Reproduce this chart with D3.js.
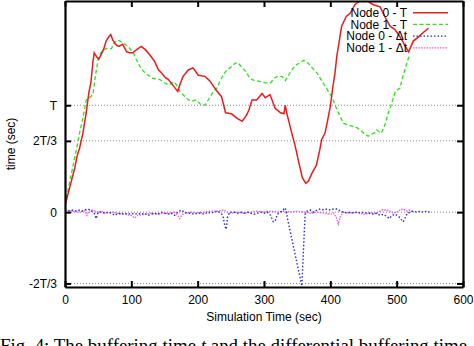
<!DOCTYPE html>
<html><head><meta charset="utf-8">
<script src="https://cdn.jsdelivr.net/npm/d3@7"></script>
<style>html,body{margin:0;padding:0;background:#fff;overflow:hidden}</style>
</head><body>
<svg id="c" width="474" height="346"></svg>
<script>
// ---- data (time in sec, value in units of T) ----
const xTicks = [0, 100, 200, 300, 400, 500, 600];
const yTickVals = [-2/3, 0, 2/3, 1];
const yTickLabels = ["-2T/3", "0", "2T/3", "T"];
const seriesNames = ["Node 0 - T", "Node 1 - T", "Node 0 - \u0394t", "Node 1 - \u0394t"];

const node0T = [[0,0.06],[5,0.18],[10,0.3],[15,0.42],[18,0.52],[22,0.6],[27,0.74],[32,0.93],[36,1.12],[39,1.21],[42,1.4],[44,1.49],[48,1.45],[51,1.43],[55,1.48],[58,1.52],[62,1.6],[66,1.64],[69,1.66],[72,1.61],[75,1.58],[78,1.56],[81,1.55],[87,1.57],[93,1.5],[98,1.49],[102,1.49],[108,1.52],[115,1.55],[121,1.52],[128,1.47],[135,1.41],[141,1.33],[146,1.3],[151,1.26],[156,1.24],[161,1.2],[166,1.16],[170,1.13],[173,1.19],[178,1.27],[186,1.33],[193,1.35],[201,1.28],[211,1.27],[218,1.23],[228,1.14],[236,1.08],[242,0.93],[251,0.92],[259,0.88],[267,0.85],[273,0.9],[277,0.95],[282,1.05],[289,1.05],[297,1.11],[302,1.07],[309,1.1],[317,0.97],[325,0.93],[330,0.92],[332,1.0],[335,0.91],[341,0.76],[347,0.62],[353,0.45],[358,0.32],[363,0.27],[367,0.29],[372,0.36],[379,0.44],[384,0.58],[387,0.68],[392,0.74],[396,0.86],[400,0.99],[404,1.18],[407,1.3],[410,1.47],[413,1.58],[417,1.74],[424,1.83],[430,1.86],[437,1.94],[443,1.97],[450,1.99],[457,1.97],[465,1.94],[475,1.92],[482,1.83],[490,1.74],[497,1.71],[503,1.66],[508,1.61],[513,1.55],[518,1.5],[525,1.6],[533,1.64],[540,1.68],[548,1.72]];

const node1T = [[0,0.07],[6,0.25],[12,0.43],[17,0.58],[22,0.74],[27,0.88],[32,1.05],[37,1.07],[42,1.1],[46,1.28],[50,1.43],[54,1.49],[58,1.52],[63,1.53],[70,1.53],[74,1.58],[78,1.61],[83,1.6],[88,1.58],[95,1.55],[103,1.49],[108,1.42],[113,1.36],[118,1.32],[123,1.29],[133,1.25],[143,1.24],[150,1.21],[156,1.19],[160,1.2],[164,1.22],[168,1.19],[172,1.14],[176,1.11],[181,1.08],[186,1.05],[192,1.04],[198,1.05],[204,1.01],[211,1.0],[218,1.07],[224,1.13],[229,1.16],[234,1.23],[239,1.29],[244,1.33],[251,1.36],[256,1.39],[260,1.4],[266,1.36],[272,1.32],[277,1.27],[282,1.24],[288,1.23],[295,1.22],[303,1.21],[310,1.21],[315,1.25],[320,1.27],[327,1.27],[332,1.23],[337,1.28],[342,1.33],[347,1.37],[352,1.39],[360,1.42],[367,1.39],[374,1.34],[380,1.3],[386,1.24],[392,1.18],[397,1.13],[402,1.08],[406,1.02],[410,0.96],[415,0.89],[420,0.83],[430,0.81],[440,0.79],[445,0.77],[450,0.74],[457,0.71],[462,0.73],[466,0.74],[470,0.77],[474,0.75],[477,0.74],[483,0.83],[487,0.92],[491,0.99],[495,1.07],[498,1.13],[505,1.16],[508,1.24],[511,1.3],[515,1.39],[520,1.48]];

const node0Dt = [[0,0.02],[5,0.01],[10,0.02],[15,0.01],[20,0.02],[25,0.01],[30,0.02],[35,0.03],[40,0.01],[44,-0.01],[47,-0.06],[50,0.0],[55,0.0],[60,-0.01],[65,0.0],[70,-0.01],[75,-0.03],[80,-0.01],[85,-0.02],[90,-0.01],[95,-0.02],[100,-0.01],[105,-0.02],[110,-0.01],[115,-0.02],[120,-0.01],[125,-0.03],[130,-0.02],[135,-0.01],[140,-0.02],[145,0.0],[150,-0.01],[155,-0.02],[160,-0.01],[165,-0.03],[170,0.0],[175,0.02],[180,0.0],[185,-0.01],[190,-0.01],[195,-0.02],[200,-0.01],[205,-0.01],[210,-0.02],[215,0.0],[220,-0.01],[225,0.0],[230,0.01],[235,-0.01],[238,-0.03],[241,-0.13],[243,-0.16],[245,-0.05],[248,0.0],[255,0.0],[260,-0.01],[265,0.0],[270,-0.01],[275,0.0],[280,-0.01],[285,-0.02],[290,-0.01],[295,0.0],[300,-0.01],[305,0.0],[310,-0.03],[314,-0.09],[317,-0.08],[320,-0.02],[325,0.0],[332,0.04],[357,-0.69],[362,-0.02],[365,0.01],[370,0.02],[375,0.0],[380,0.02],[385,0.03],[390,0.02],[395,0.03],[400,0.02],[405,0.03],[410,0.03],[415,0.01],[420,0.0],[425,-0.01],[430,0.0],[435,-0.01],[440,0.0],[445,-0.01],[450,0.0],[455,-0.01],[460,-0.01],[465,-0.02],[470,-0.01],[475,-0.03],[480,-0.02],[485,-0.04],[489,-0.06],[493,-0.03],[498,-0.02],[503,-0.04],[507,-0.07],[510,-0.09],[513,-0.05],[516,-0.01],[520,0.0],[525,0.01],[530,0.0],[535,0.01],[540,0.0],[545,0.01],[550,0.0]];

const node1Dt = [[0,0.02],[10,0.01],[20,0.0],[30,0.01],[33,-0.03],[36,0.01],[40,0.02],[45,0.01],[50,0.0],[55,0.01],[60,-0.01],[70,0.0],[80,-0.01],[90,-0.02],[100,-0.03],[105,-0.055],[110,-0.03],[120,-0.02],[130,-0.01],[140,-0.02],[150,-0.01],[160,-0.01],[165,0.0],[170,-0.03],[173,-0.06],[176,-0.03],[180,-0.01],[190,0.0],[200,-0.01],[210,0.0],[220,0.01],[230,0.01],[240,0.02],[245,0.0],[250,-0.01],[260,0.0],[270,-0.01],[280,0.0],[290,0.01],[300,0.0],[310,0.01],[320,0.0],[330,0.01],[340,0.0],[350,0.01],[360,0.0],[370,-0.01],[380,0.0],[390,-0.01],[400,-0.02],[405,-0.01],[409,-0.05],[412,-0.11],[415,-0.04],[420,0.0],[430,-0.01],[440,0.0],[450,-0.02],[460,-0.01],[470,-0.01],[478,0.02],[485,0.02],[490,0.01],[495,-0.01],[500,0.0],[505,0.02],[510,0.03],[515,0.01],[520,0.02],[525,0.0]];

// ---- drawing ----
const svg = d3.select("#c");
const L = 65, R = 463, T = 1, B = 287;
const x = d3.scaleLinear().domain([0, 600]).range([L, R]);
const y = d3.scaleLinear().domain([-0.7, 1.975]).range([B, T]);
const font = "'Liberation Sans', Arial, Helvetica, sans-serif";

svg.append("clipPath").attr("id", "pc").append("rect")
  .attr("x", L).attr("y", T).attr("width", R - L).attr("height", B - T);

// grid
svg.append("g").selectAll("line").data(yTickVals).join("line")
  .attr("x1", L).attr("x2", R).attr("y1", d => y(d)).attr("y2", d => y(d))
  .attr("stroke", "#888").attr("stroke-width", 1).attr("stroke-dasharray", "1,2");

const styles = [
  {data: node0T, color: "#ea1b1b", dash: null, w: 1.5},
  {data: node1T, color: "#33dd22", dash: "4,2.5", w: 1.3},
  {data: node0Dt, color: "#2a2ad8", dash: "1.5,2", w: 1.4},
  {data: node1Dt, color: "#ee55ee", dash: "1.5,1.2", w: 1.3}
];
const line = d3.line().x(d => x(d[0])).y(d => y(d[1]));
const g = svg.append("g").attr("clip-path", "url(#pc)");
[3, 2, 1, 0].forEach(i => {
  const s = styles[i];
  g.append("path").attr("d", line(s.data)).attr("fill", "none")
    .attr("stroke", s.color).attr("stroke-width", s.w)
    .attr("stroke-dasharray", s.dash);
});

// axes with inward ticks
const axB = d3.axisBottom(x).tickValues(xTicks).tickSizeInner(-6).tickSizeOuter(0).tickPadding(8);
const axT = d3.axisTop(x).tickValues(xTicks).tickSizeInner(-6).tickSizeOuter(0).tickFormat("");
const axL = d3.axisLeft(y).tickValues(yTickVals).tickSizeInner(-6).tickSizeOuter(0).tickPadding(8)
  .tickFormat((d, i) => yTickLabels[i]);
const axR = d3.axisRight(y).tickValues(yTickVals).tickSizeInner(-6).tickSizeOuter(0).tickFormat("");
function styleAx(sel) {
  sel.selectAll(".domain").attr("stroke", "#000").attr("stroke-width", 2.2);
  sel.selectAll(".tick line").attr("stroke", "#000").attr("stroke-width", 2);
  sel.selectAll("text").attr("font-family", font).attr("font-size", 12).attr("fill", "#000");
}
svg.append("g").attr("transform", `translate(0,${B})`).call(axB).call(styleAx);
svg.append("g").attr("transform", `translate(0,${T})`).call(axT).call(styleAx);
svg.append("g").attr("transform", `translate(${L},0)`).call(axL).call(styleAx);
svg.append("g").attr("transform", `translate(${R},0)`).call(axR).call(styleAx);

// axis titles
svg.append("text").attr("x", (L + R) / 2).attr("y", 321).attr("text-anchor", "middle")
  .attr("font-family", font).attr("font-size", 12).text("Simulation Time (sec)");
svg.append("text").attr("transform", `translate(15,${(T + B) / 2}) rotate(-90)`)
  .attr("text-anchor", "middle").attr("font-family", font).attr("font-size", 12).text("time (sec)");

// legend
const lg = svg.append("g");
seriesNames.forEach((n, i) => {
  const cy = 12.7 + i * 11.7;
  lg.append("text").attr("x", 407).attr("y", cy + 4.2).attr("text-anchor", "end")
    .attr("font-family", font).attr("font-size", 12).text(n);
  lg.append("line").attr("x1", 413).attr("x2", 448).attr("y1", cy).attr("y2", cy)
    .attr("stroke", styles[i].color).attr("stroke-width", styles[i].w)
    .attr("stroke-dasharray", styles[i].dash);
});

// caption (partially visible, as in the reference)
const cap = svg.append("text").attr("x", 0).attr("y", 352)
  .attr("font-family", "'Liberation Serif', 'Times New Roman', serif").attr("font-size", 18.9);
cap.append("tspan").text("Fig. 4: The buffering time ");
cap.append("tspan").attr("font-style", "italic").text("t");
cap.append("tspan").text(" and the differential buffering time");
</script>
</body></html>
